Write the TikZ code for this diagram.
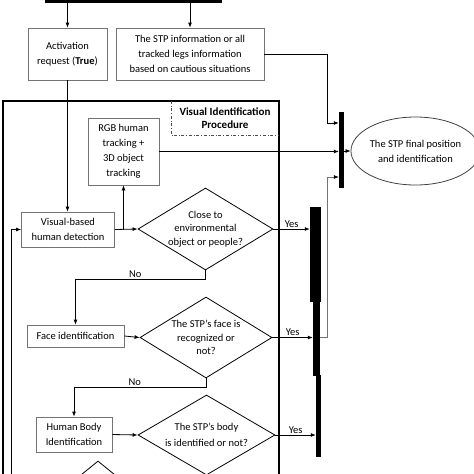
\documentclass[tikz,border=0pt]{standalone}
\usepackage{fontspec}
\setmainfont{Carlito}
\usetikzlibrary{arrows.meta,shapes.geometric}
\begin{document}
\begin{tikzpicture}[x=1pt,y=-1pt,
  box/.style={draw=black!55,line width=0.8pt,inner sep=0pt,align=center,font=\fontsize{10.5}{15}\selectfont},
  dia/.style={draw=black,line width=0.8pt,shape=diamond,inner sep=0pt},
  dtext/.style={align=center,font=\fontsize{10.5}{13.5}\selectfont},
  bar/.style={fill=black,draw=none,inner sep=0pt},
  arr/.style={-{Latex[length=5pt,width=4pt]},line width=0.8pt},
  lbl/.style={font=\fontsize{10.5}{12}\selectfont,inner sep=1.5pt}
]
\useasboundingbox (0,0) rectangle (474,474);
\clip (0,0) rectangle (474,474);
% top black bar
\node[bar,minimum width=177pt,minimum height=8pt] (top) at (133.5,-1) {};
% boxes
\node[box,minimum width=79pt,minimum height=52pt] (act) at (67.5,54) {Activation\\request (\textbf{True})};
\node[box,minimum width=148pt,minimum height=52pt] (info) at (190,54) {The STP information or all\\tracked legs information\\based on cautious situations};
% outer procedure frame
\draw[line width=1.8pt] (279,500) -- (279,101) -- (3,101) -- (3,500);
\draw[dash dot,line width=0.6pt,black!70] (171,101) -- (171,135) -- (279,135);
\node[font=\bfseries\fontsize{11}{13}\selectfont,align=center] (vip) at (225,118) {Visual Identification\\Procedure};
\node[box,minimum width=71pt,minimum height=67pt] (rgb) at (123.5,151.5) {RGB human\\tracking +\\3D object\\tracking};
\node[box,minimum width=93pt,minimum height=35pt] (vis) at (68,229.5) {Visual-based\\human detection};
\node[dia,minimum width=135pt,minimum height=82pt,label={[dtext]center:{Close to\\environmental\\object or people?}}] (d1) at (205.5,229) {};
\node[box,minimum width=97pt,minimum height=22pt] (face) at (75.5,336) {Face identification};
\node[dia,minimum width=132pt,minimum height=81pt,label={[dtext]center:{The STP's face is\\recognized or\\not?}}] (d2) at (206,337.5) {};
\node[box,minimum width=76pt,minimum height=35pt] (body) at (74,434.5) {Human Body\\Identification};
\node[dia,minimum width=137pt,minimum height=80pt,label={[dtext,font=\fontsize{10.5}{16}\selectfont]center:{The STP's body\\is identified or not?}}] (d3) at (206.5,435) {};
\node[dia,minimum width=74pt,minimum height=60pt] (d4) at (98,491) {};
% merge bars
\node[bar,minimum width=11pt,minimum height=95pt] (bar1) at (315.5,254.5) {};
\node[bar,minimum width=7pt,minimum height=74pt] (bar2) at (316.5,338.5) {};
\node[bar,minimum width=5pt,minimum height=82pt] (bar3) at (318.5,416) {};
\node[bar,minimum width=5pt,minimum height=76pt] (topbar) at (341.5,150) {};
\node[draw=black!75,line width=0.8pt,ellipse,minimum width=112pt,minimum height=68pt,inner sep=0pt,align=center,font=\fontsize{10.5}{15}\selectfont] (ell) at (415.5,151) {The STP final position\\and identification};
% connectors
\draw[arr] (top.south -| act.north) -- (act.north);
\draw[arr] (top.south -| info.north) -- (info.north);
\draw[arr] (act.south) -- (act.south |- vis.north);
\draw[arr] (vis.east) -- (d1.west);
\draw[arr] (vis.east -| rgb.south) -- (rgb.south);
\draw[arr] (rgb.east) -- (rgb.east -| topbar.west);
\coordinate (j1) at (327,123);
\draw[arr] (info.east) -| (j1) -- (j1 -| topbar.west);
\draw[arr] (topbar.east |- ell.west) -- (ell.west);
\draw[arr] (d1.east) -- node[lbl,above]{Yes} (d1.east -| bar1.west);
\draw[arr] (d1.south) -- ++(0,9) -| node[lbl,pos=0.27,above]{No} (face.north);
\draw[arr] (face.east) -- (d2.west);
\draw[arr] (d2.east) -- node[lbl,above]{Yes} (d2.east -| bar2.west);
\draw[arr] (d2.south) -- ++(0,9) -| node[lbl,pos=0.27,above]{No} (body.north);
\draw[arr] (body.east) -- (d3.west);
\draw[arr] (d3.east) -- node[lbl,above]{Yes} (d3.east -| bar3.west);
\coordinate (j2) at (327,177);
\draw[-{Latex[length=5pt,width=4pt,color=black]},line width=0.7pt,black!55] (d2.east -| bar2.east) -| (j2) -- (j2 -| topbar.west);
\coordinate (fb) at (11,480);
\draw[arr] (fb) |- (vis.west);
\end{tikzpicture}
\end{document}
